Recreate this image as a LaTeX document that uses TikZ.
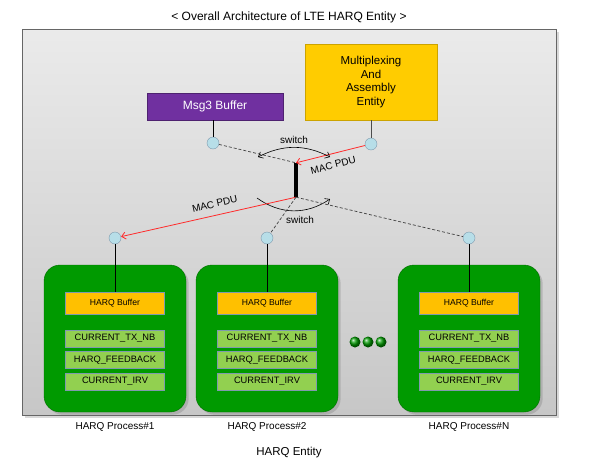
\documentclass[tikz,border=0pt]{standalone}
\usepackage{fontspec}
\setmainfont{Liberation Sans}
\usetikzlibrary{arrows.meta,positioning,shadows}
\definecolor{msgpurple}{HTML}{7030A0}
\definecolor{muxyellow}{HTML}{FFCC00}
\definecolor{procgreen}{HTML}{009A00}
\definecolor{buforange}{HTML}{FFC000}
\definecolor{fieldgreen}{HTML}{92D050}
\definecolor{fieldline}{HTML}{7F9AAE}
\definecolor{portblue}{HTML}{B7DEE8}
\definecolor{pdured}{HTML}{FF2A2A}

\tikzset{
	port/.style={circle,draw=fieldline,fill=portblue,minimum size=12pt,inner sep=0pt},
	proc/.style={draw=procgreen!70!black,fill=procgreen,rounded corners=16pt,minimum width=142pt,minimum height=147pt,drop shadow={opacity=0.35}},
	buf/.style={draw=fieldline,line width=1pt,fill=buforange,minimum width=99pt,minimum height=22pt,inner sep=0pt,font=\fontsize{8.6}{10}\selectfont},
	field/.style={draw=fieldline,line width=1pt,fill=fieldgreen,minimum width=99pt,minimum height=17pt,inner sep=0pt,font=\fontsize{9.3}{10}\selectfont},
	pdu/.style={draw=pdured,line width=0.8pt,-{Straight Barb[length=4pt,width=7pt]}},
	idle/.style={densely dashed,line width=0.7pt,draw=black!75},
	tag/.style={font=\fontsize{10}{11}\selectfont},
}

\begin{document}
\begin{tikzpicture}[x=1pt,y=-1pt]
	\useasboundingbox (0,0) rectangle (595,461);
	% frame of the entity
	\draw[draw=black!60,top color=black!8,bottom color=black!22,drop shadow={opacity=0.3}] (22,29) rectangle (556,415);
	\node[font=\fontsize{12}{14}\selectfont] (title) at (289,17) {< Overall Architecture of LTE HARQ Entity >};
	\node[font=\fontsize{11.5}{13}\selectfont] (entity) at (289,453) {HARQ Entity};

	% upper side
	\node[draw=msgpurple!70!black,fill=msgpurple,text=white,minimum width=136pt,minimum height=27pt,font=\fontsize{12}{14}\selectfont] (msg3) at (215,106.5) {Msg3 Buffer};
	\node[draw=muxyellow!80!black,fill=muxyellow,minimum width=132pt,minimum height=76pt,align=center,font=\fontsize{11.5}{13.7}\selectfont] (mux) at (371,82) {Multiplexing\\And\\Assembly\\Entity};
	\node[port] (cmsg3) at (213,143) {};
	\node[port] (cmux) at (371,144) {};
	\draw[line width=0.7pt] (cmsg3) -- (cmsg3 |- msg3.south);
	\draw[line width=0.7pt,black!70] (cmux) -- (mux.south);

	% switch
	\node[fill=black,minimum width=4.5pt,minimum height=34pt,inner sep=0pt] (sw) at (296,180) {};
	\draw[idle] (cmsg3) -- (sw.north);
	\draw[pdu] (cmux) -- (sw.north) node[pos=0.5,sloped,below=4pt,tag] {MAC PDU};
	\coordinate (ua) at (258,157);
	\coordinate (ub) at (330,157);
	\draw[line width=0.6pt,{Straight Barb[length=4pt,width=7pt]}-{Straight Barb[length=4pt,width=7pt]}] (ua) to[bend left=27] (ub);
	\node[tag] (swup) at (294,140) {switch};
	\coordinate (la) at (257,198);
	\coordinate (lb) at (330,199);
	\draw[line width=0.6pt,-{Straight Barb[length=4pt,width=7pt]}] (la) to[bend right=35] (lb);
	\node[tag] (swdown) at (300,220) {switch};

	% HARQ processes
	\foreach \n/\x in {1/115, 2/267, N/469} {
		\node[port] (c\n) at (\x,238) {};
		\node[proc] (p\n) at (\x,338.5) {};
		\node[buf] (buf\n) at (\x,303) {HARQ Buffer};
		\node[field] (tx\n) at (\x,338.5) {CURRENT\_TX\_NB};
		\node[field] (fb\n) at (\x,360) {HARQ\_FEEDBACK};
		\node[field] (irv\n) at (\x,381.5) {CURRENT\_IRV};
		\node[font=\fontsize{10}{11}\selectfont] (lab\n) at (\x,427) {HARQ Process\#\n};
		\draw[line width=0.7pt] (c\n) -- (buf\n.north);
	}
	\draw[pdu] (sw.south) -- (c1) node[pos=0.45,sloped,above=4pt,tag] {MAC PDU};
	\draw[idle] (sw.south) -- (c2);
	\draw[idle] (sw.south) -- (cN);

	% more processes
	\foreach \i/\x in {1/355, 2/368, 3/381}
		\shade[ball color=procgreen] (\x,342) circle (5.5pt) coordinate (dot\i);
\end{tikzpicture}
\end{document}
